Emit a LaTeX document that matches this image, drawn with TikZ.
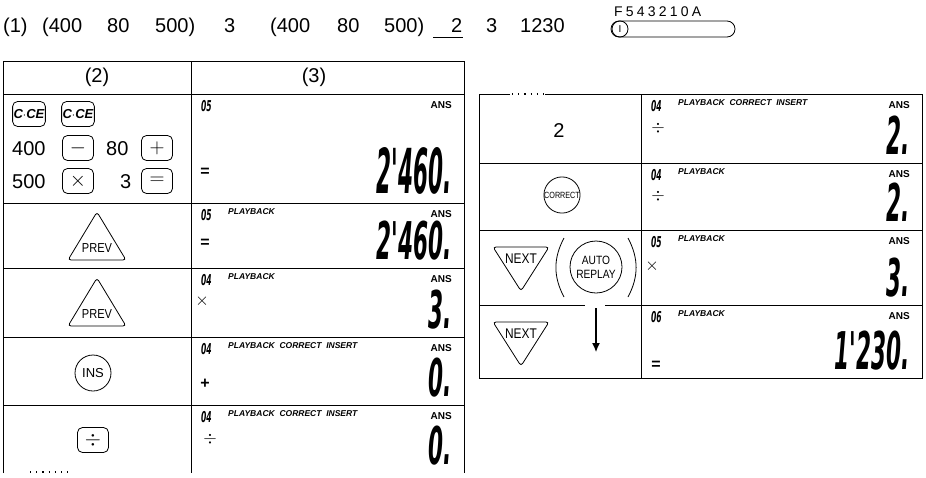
\documentclass[tikz,border=0pt]{standalone}
\usepackage{fontspec}
\setmainfont{Liberation Sans}
\newfontfamily\condf{DejaVu Sans Condensed}
\usetikzlibrary{shapes.geometric,arrows.meta}
\tikzset{
 grid/.style={line width=1pt},
 keybox/.style={draw,rounded corners=5pt,minimum width=31pt,minimum height=25pt,inner sep=1pt,line width=0.8pt,font=\fontsize{20}{20}\selectfont},
 ktext/.style={inner sep=0pt,font=\fontsize{13}{13}\selectfont},
 ckey/.style={draw,circle,minimum size=36pt,inner sep=0pt,line width=0.8pt},
 txt/.style={inner sep=0pt,font=\fontsize{20}{20}\selectfont},
 small/.style={inner sep=0pt,anchor=west,font=\fontsize{8.5}{9}\selectfont\bfseries\itshape},
 ans/.style={inner sep=0pt,font=\fontsize{10}{10}\selectfont\bfseries},
 seg/.style={inner sep=0pt,anchor=north west,font=\condf\bfseries\itshape\fontsize{13}{13}\selectfont},
 big/.style={inner sep=0pt,anchor=south east,font=\condf\bfseries\itshape\fontsize{40}{40}\selectfont},
 opn/.style={inner sep=0pt,font=\bfseries\fontsize{16}{16}\selectfont},
}
% \mylcd{name}{left x}{top y}{right x}{bottom y}{counter}{mode}{big}{vscale}
\newcommand\mylcd[9]{%
 \node[seg] (#1c) at (#2+10,#3+6) {\scalebox{0.65}[1.15]{#6}};
 \node[small] (#1m) at (#2+37,#3+9) {#7};
 \node[ans,anchor=north east] (#1a) at (#4-12,#3+7) {ANS};
 \node[big] (#1b) at (#4-12,#5-8) {\scalebox{0.6}[#9]{#8}};
}
\newcommand\uptri[3]{% name, x, y (center of text)
 \node[ktext] (#1) at (#2,#3) {\scalebox{0.85}[1]{PREV}};
 \draw[line width=0.8pt,rounded corners=3pt] (#2,#3-36) -- (#2+29,#3+12) -- (#2-29,#3+12) -- cycle;
}
\newcommand\dntri[3]{%
 \node[ktext,font=\fontsize{14}{14}\selectfont] (#1) at (#2,#3) {\scalebox{0.85}[1]{NEXT}};
 \draw[line width=0.8pt,rounded corners=3pt] (#2-28,#3-12) -- (#2+28,#3-12) -- (#2,#3+32) -- cycle;
}
\begin{document}
\begin{tikzpicture}[x=1pt,y=-1pt]
\useasboundingbox (0,0) rectangle (926,477);
% top line
\tikzset{tl/.style={txt,anchor=base west}}
\node[tl] (t1) at (3,32) {(1)};
\node[tl] (t2) at (42,32) {(400};
\node[tl] (t3) at (107,32) {80};
\node[tl] (t4) at (155,32) {500)};
\node[tl] (t5) at (224,32) {3};
\node[tl] (t6) at (270,32) {(400};
\node[tl] (t7) at (337,32) {80};
\node[tl] (t8) at (384,32) {500)};
\node[tl] (t9) at (451,32) {2};
\draw[line width=0.8pt] (433,37) -- (463,37);
\node[tl] (t10) at (486,32) {3};
\node[tl] (t11) at (520,32) {1230};
\node[inner sep=0pt,anchor=base west,font=\fontsize{14}{14}\selectfont] (sw) at (614,16) {F\hspace{3.2pt}5\hspace{3.2pt}4\hspace{3.2pt}3\hspace{3.2pt}2\hspace{3.2pt}1\hspace{3.2pt}0\hspace{3.2pt}A};
\draw[line width=0.8pt,rounded corners=8pt] (611,21) rectangle (735,37);
\node[draw,circle,minimum size=16pt,inner sep=0pt,line width=0.8pt,font=\fontsize{10}{10}\selectfont] (swk) at (620,29) {I};
% left table
\draw[grid] (3,473) -- (3,61) -- (464,61) -- (464,473);
\draw[grid] (191,61) -- (191,473);
\foreach \y in {94,203,268,337,405} \draw[grid] (3,\y) -- (464,\y);
\draw[line width=1.2pt,dash pattern=on 1.2pt off 5pt] (30,472) -- (72,472);
\node[txt] (h2) at (97,77) {(2)};
\node[txt] (h3) at (314,77) {(3)};
% row1 keys
\node[keybox,font=\bfseries\itshape\fontsize{13}{13}\selectfont] (k1) at (29,114) {C$\cdot$CE};
\node[keybox,font=\bfseries\itshape\fontsize{13}{13}\selectfont] (k2) at (78,114) {C$\cdot$CE};
\node[tl] (n400) at (12,155) {400};
\node[keybox] (km) at (78,148) {$-$};
\node[tl] (n80) at (106,155) {80};
\node[keybox] (kp) at (157,148) {$+$};
\node[tl] (n500) at (12,188) {500};
\node[keybox] (kx) at (78,181) {$\times$};
\node[tl] (n3) at (120,188) {3};
\node[keybox] (ke) at (157,181) {$=$};
\mylcd{a}{191}{94}{464}{203}{05}{}{2'460.}{1.55}
\node[opn] (ao) at (205,172) {=};
\uptri{p1}{97}{248}
\mylcd{b}{191}{203}{464}{268}{05}{PLAYBACK}{2'460.}{1.3}
\node[opn] (bo) at (205,243) {=};
\uptri{p2}{97}{314}
\mylcd{c}{191}{268}{464}{337}{04}{PLAYBACK}{3.}{1.3}
\node[opn] (co) at (202,301) {$\times$};
\node[ckey,font=\fontsize{13}{13}\selectfont] (ins) at (93,373) {INS};
\mylcd{d}{191}{337}{464}{405}{04}{PLAYBACK \ CORRECT \ INSERT}{0.}{1.3}
\node[opn] (do) at (205,384) {+};
\node[keybox] (kd) at (93,440) {$\div$};
\mylcd{e}{191}{405}{464}{473}{04}{PLAYBACK \ CORRECT \ INSERT}{0.}{1.3}
\node[opn] (eo) at (210,439) {$\div$};
% right table
\draw[grid] (510,94) -- (479,94) -- (479,378) -- (922,378) -- (922,94) -- (545,94);
\draw[line width=1.2pt,dash pattern=on 1.2pt off 5pt] (512,94) -- (545,94);
\draw[grid] (641,94) -- (641,378);
\draw[grid] (479,163) -- (922,163);
\draw[grid] (479,230) -- (922,230);
\draw[grid] (479,305) -- (585,305);
\draw[grid] (605,305) -- (922,305);
\node[txt] (r2) at (559,131) {2};
\mylcd{f}{641}{94}{922}{163}{04}{PLAYBACK \ CORRECT \ INSERT}{2.}{1.3}
\node[opn] (fo) at (658,128) {$\div$};
\node[ckey,font=\fontsize{9}{9}\selectfont] (cor) at (562,195) {\scalebox{0.8}[1]{CORRECT}};
\mylcd{g}{641}{163}{922}{230}{04}{PLAYBACK}{2.}{1.3}
\node[opn] (go) at (658,196) {$\div$};
\dntri{nx1}{521}{259}
\node[ckey,minimum size=52pt,align=center,font=\fontsize{12}{14}\selectfont] (ar) at (596,267) {\scalebox{0.85}[1]{AUTO}\\\scalebox{0.85}[1]{REPLAY}};
\draw[line width=0.8pt] (564,238) to[bend right=28] (564,297);
\draw[line width=0.8pt] (628,238) to[bend left=28] (628,297);
\mylcd{h}{641}{230}{922}{305}{05}{PLAYBACK}{3.}{1.3}
\node[opn] (ho) at (652,266) {$\times$};
\dntri{nx2}{521}{334}
\coordinate (ae) at (596,352);
\draw[line width=1.2pt,-{Latex[length=9pt,width=8pt]}] (ar.south) ++(0,15) -- (ae);
\mylcd{i}{641}{305}{922}{378}{06}{PLAYBACK}{1'230.}{1.3}
\node[opn] (io) at (656,365) {=};
\end{tikzpicture}
\end{document}
